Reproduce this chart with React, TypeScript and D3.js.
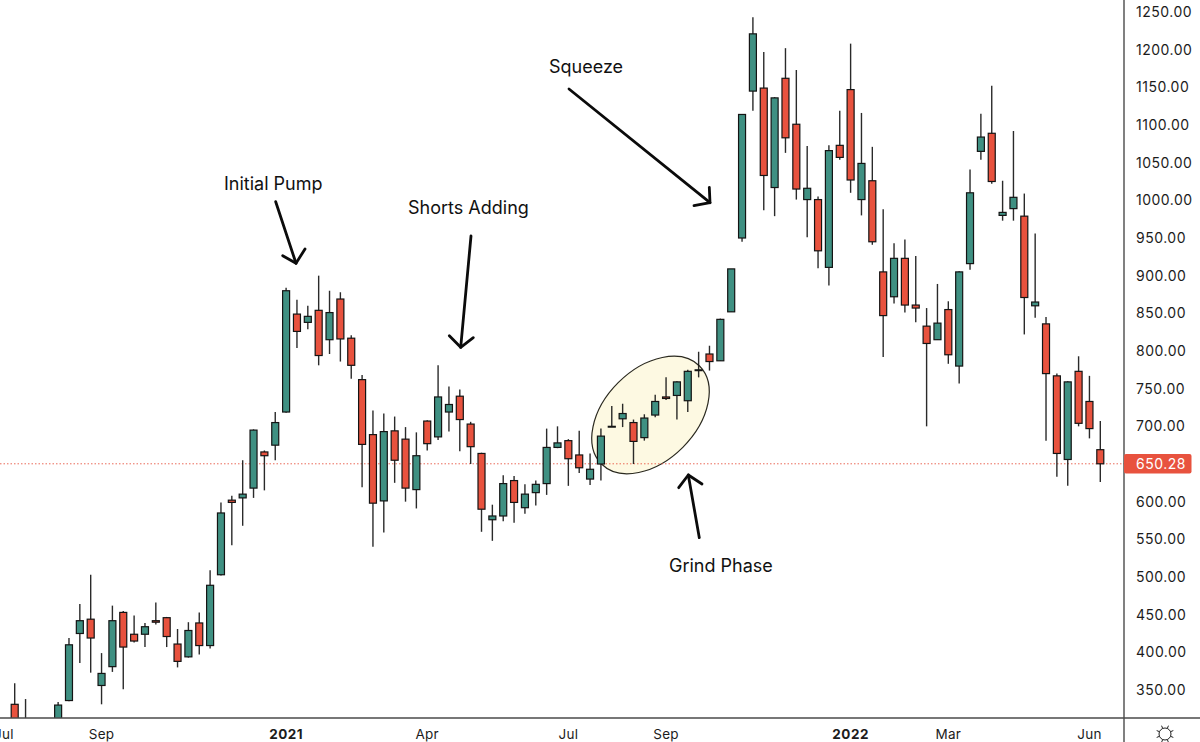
import React from "react";
import * as d3 from "d3";

const W = 1200, H = 742;

// Weekly candles, prices (first candles sit partly under the time axis)
const opens = [331,303,292,310,297,336,425,444,356,381,453,424,424,442,446,411,394,439,409,503,602,605,618,666,675,719,849,838,854,815,869,817,762,689,601,694,683,616,707,686,719,740,703,664,576,581,628,592,612,624,672,681,662,630,650,699,710,705,685,715,739,741,734,774,796,787,852,950,1145,1149,1017,1162,1101,1001,1001,911,1073,1147,1001,1026,905,872,923,861,833,815,855,780,916,1065,1089,980,989,979,860,836,767,656,773,733,669];
const highs = [359,338,310,310,334,419,464,503,399,462,455,449,439,466,447,431,440,453,509,599,608,655,696,668,719,884,868,860,900,880,878,821,768,721,717,713,699,692,708,781,753,749,706,665,596,635,634,623,628,697,700,683,694,664,697,727,730,709,716,742,765,760,775,799,807,843,909,1114,1243,1197,1137,1202,1173,1072,1005,1073,1119,1208,1116,1071,988,943,948,926,857,889,866,906,1041,1115,1152,1026,1092,1009,956,845,770,760,793,767,707];
const lows = [284,284,285,290,290,335,386,373,331,374,351,413,407,437,407,380,393,397,405,502,542,568,605,615,655,718,804,829,781,796,786,763,619,540,559,625,600,591,668,682,693,667,650,560,548,574,572,584,595,609,671,621,638,622,628,699,699,650,681,712,735,709,719,765,774,787,852,945,1119,987,979,1063,1001,951,910,887,1054,1010,980,941,792,863,851,838,700,815,783,757,908,1054,1022,973,973,822,844,681,633,621,700,684,626];
const closes = [297,290,306,296,330,410,442,419,372,442,407,415,434,440,421,388,429,409,489,585,599,610,695,661,705,880,826,846,794,851,816,781,676,598,693,655,618,661,677,739,729,709,673,590,581,624,599,610,623,672,678,657,645,643,687,700,717,680,711,733,737,759,773,775,786,842,909,1114,1221,1033,1136,1083,1015,1016,933,1066,1057,1027,1049,945,847,923,861,857,810,837,795,905,1010,1084,1025,984,1004,871,865,770,664,759,704,697,650.28];

const priceTicks = [350,400,450,500,550,600,650,700,750,800,850,900,950,1000,1050,1100,1150,1200,1250];
const lastPrice = 650.28;
const timeLabels = ["Jul","Sep","2021","Apr","Jul","Sep","2022","Mar","Jun"];
const timeIndex = [-1,8,25,38,51,60,77,86,99];
const boldLabels = ["2021","2022"];

const annotations = [
  { text: "Initial Pump", x: 224, y: 190 },
  { text: "Shorts Adding", x: 408, y: 214 },
  { text: "Squeeze", x: 549, y: 73 },
  { text: "Grind Phase", x: 669, y: 572 },
];
const arrows = [
  { shaft: [[275.7,201.7],[296,263.3]], head: [[282.7,255.7],[296,263.3],[305,249]] },
  { shaft: [[471,236],[460.7,347.3]], head: [[449.3,335.7],[460.7,347.3],[473.3,337.7]] },
  { shaft: [[569,89],[710,202.7]], head: [[694,205.7],[710,202.7],[709.3,187.3]] },
  { shaft: [[699.3,537.7],[688.3,475]], head: [[678.7,487.7],[688.3,475],[702,484]] },
];

const UP = "#3F9082", DOWN = "#E8523E", INK = "#141414", AXIS = "#4a4a4a";
const FONT = "Inter, 'Liberation Sans', Arial, sans-serif";

export default function App() {
  const plotRight = 1124, plotBottom = 718;
  const x = d3.scaleLinear().domain([0, 100]).range([14.7, 1100.3]);
  const y = d3.scaleLinear().domain([350, 1250]).range([690, 12]);
  const line = d3.line();
  const sunRays = d3.range(8).map((i) => (i * Math.PI) / 4 + Math.PI / 8);

  return (
    <svg
      width={W}
      height={H}
      viewBox={`0 0 ${W} ${H}`}
      style={{ position: "fixed", left: 0, top: 0, display: "block", background: "#fff", fontFamily: FONT }}
    >
      <defs>
        <clipPath id="plot">
          <rect x={0} y={0} width={plotRight} height={plotBottom} />
        </clipPath>
      </defs>

      {/* highlighted phase, behind the candles */}
      <ellipse
        cx={650.5}
        cy={415}
        rx={69.3}
        ry={45.7}
        transform="rotate(-45 650.5 415)"
        fill="#FDF9E2"
        stroke="#2b2a20"
        strokeWidth={1.2}
      />

      {/* last price line */}
      <line
        x1={0}
        x2={plotRight}
        y1={y(lastPrice)}
        y2={y(lastPrice)}
        stroke={DOWN}
        strokeWidth={1}
        strokeDasharray="1.5 2"
        opacity={0.85}
      />

      <g clipPath="url(#plot)">
        {opens.map((o, i) => {
          const c = closes[i];
          const top = y(Math.max(o, c));
          const bottom = y(Math.min(o, c));
          const px = x(i);
          return (
            <g key={i}>
              <line x1={px} x2={px} y1={y(highs[i])} y2={y(lows[i])} stroke={INK} strokeWidth={1.4} opacity={0.9} />
              <rect
                x={px - 3.5}
                y={top}
                width={7}
                height={Math.max(bottom - top, 0.8)}
                fill={c >= o ? UP : DOWN}
                stroke={INK}
                strokeWidth={1.2}
              />
            </g>
          );
        })}
      </g>

      {/* axes */}
      <line x1={0} x2={W} y1={plotBottom} y2={plotBottom} stroke={AXIS} strokeWidth={1.4} />
      <line x1={plotRight} x2={plotRight} y1={0} y2={H} stroke={AXIS} strokeWidth={1.4} />

      {priceTicks.map((p) =>
        p === 650 ? null : (
          <text key={p} x={1136} y={y(p)} dy="0.36em" fontSize={14} letterSpacing={0.5} fill="#1c1c1c">
            {p.toFixed(2)}
          </text>
        )
      )}

      <rect x={plotRight} y={454} width={67.5} height={19.5} rx={2} fill={DOWN} />
      <text x={1136} y={y(lastPrice)} dy="0.36em" fontSize={14} letterSpacing={0.5} fill="#fff">
        {lastPrice.toFixed(2)}
      </text>

      {timeLabels.map((t, k) => (
        <text
          key={k}
          x={x(timeIndex[k])}
          y={739}
          textAnchor="middle"
          fontSize={13.5}
          letterSpacing={boldLabels.includes(t) ? 0.5 : 0.2}
          fontWeight={boldLabels.includes(t) ? 700 : 400}
          fill="#1c1c1c"
        >
          {t}
        </text>
      ))}

      {/* settings icon */}
      <g transform="translate(1165 734)" stroke="#222" strokeWidth={1} fill="none">
        <circle r={6} />
        {sunRays.map((a, i) => (
          <line key={i} x1={6 * Math.cos(a)} y1={6 * Math.sin(a)} x2={9 * Math.cos(a)} y2={9 * Math.sin(a)} />
        ))}
      </g>

      {/* annotations */}
      {annotations.map((a) => (
        <text key={a.text} x={a.x} y={a.y} fontSize={18} fill="#111">
          {a.text}
        </text>
      ))}
      {arrows.map((a, i) => (
        <g key={i} fill="none" stroke="#0b0b0b" strokeWidth={2.8} strokeLinecap="round" strokeLinejoin="round">
          <path d={line(a.shaft as [number, number][]) ?? ""} />
          <path d={line(a.head as [number, number][]) ?? ""} />
        </g>
      ))}
    </svg>
  );
}
